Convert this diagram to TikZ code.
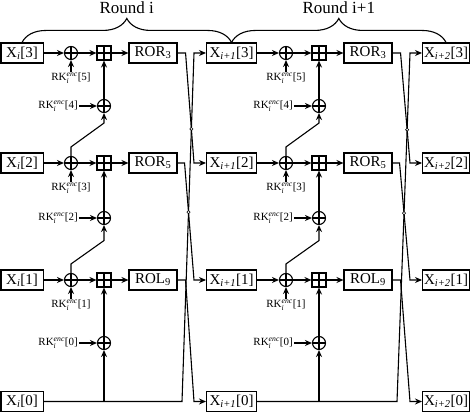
\documentclass[tikz,border=0pt]{standalone}
\usepackage{amsmath}
\usepackage{fontspec}
\setmainfont{Liberation Serif}
\usepackage{tikz}
\usetikzlibrary{positioning,arrows.meta,decorations.pathreplacing,intersections}
\tikzset{
	>={Stealth[length=7pt,width=6pt]}, % filled arrow heads
	wire/.style={->, line width=1.1pt}, % directed connections
	reg/.style={draw, line width=1.1pt, minimum height=20pt, inner sep=1pt, font=\fontsize{15}{17}\selectfont}, % word boxes
	rotbox/.style={reg, minimum width=48pt}, % rotation boxes
	xorop/.style={circle, draw, line width=1.1pt, minimum size=13pt, inner sep=0pt,
		path picture={\draw[line width=1.1pt] (path picture bounding box.north) -- (path picture bounding box.south)
			(path picture bounding box.west) -- (path picture bounding box.east);}}, % xor
	addop/.style={rectangle, draw, line width=1.1pt, minimum size=14pt, inner sep=0pt,
		path picture={\draw[line width=1.1pt] (path picture bounding box.north) -- (path picture bounding box.south)
			(path picture bounding box.west) -- (path picture bounding box.east);}}, % modular addition
	rklabel/.style={inner sep=1pt, font=\fontsize{11}{13}\selectfont}, % round key words
	roundlabel/.style={font=\fontsize{17}{19}\selectfont}, % round captions
}

\begin{document}
\begin{tikzpicture}[x=1pt,y=1pt]
	\useasboundingbox (0,0) rectangle (474,412);
	% state words
	\foreach \c/\nm/\sub/\xx/\w in {0/in/i/0.5/42, 1/mid/i+1/206/50, 2/out/i+2/422/47}
		\foreach \k/\yy in {3/359, 2/249, 1/132, 0/10.5}
			\node[reg, anchor=west, minimum width=\w] (\nm\k) at (\xx,\yy) {X\textsubscript{\textit{\sub}}[\k]};
	
	\foreach \r/\src/\dst/\dx in {0/in/mid/0, 1/mid/out/215} {
		\foreach \k/\yr/\yk/\op/\sb/\ra/\rb in {3/359/306/ROR/3/5/4, 2/249/194/ROR/5/3/2, 1/132/69/ROL/9/1/0} {
			\node[xorop] (xor\r\k) at ({71+\dx},\yr) {};
			\node[addop] (add\r\k) at ({104+\dx},\yr) {};
			\node[xorop] (kx\r\k) at ({104+\dx},\yk) {};
			\node[rotbox] (rot\r\k) at ({153+\dx},\yr) {\op\textsubscript{\sb}};
			\node[rklabel, below=12pt of xor\r\k] (rka\r\k) {RK$_{\textit{i}}^{\textit{enc}}$[\ra]};
			\node[rklabel, left=18pt of kx\r\k] (rkb\r\k) {RK$_{\textit{i}}^{\textit{enc}}$[\rb]};
			\draw[wire] (\src\k) -- (xor\r\k);
			\draw[wire] (xor\r\k) -- (add\r\k);
			\draw[wire] (add\r\k) -- (rot\r\k);
			\draw[wire] (rka\r\k) -- (xor\r\k);
			\draw[wire] (rkb\r\k) -- (kx\r\k);
			\draw[wire] (kx\r\k) -- (add\r\k);
		}
		% second inputs of the key xors
		\draw[wire] (xor\r2.north) -- ++(0,9) -- ([yshift=-10pt]kx\r3.south) -- (kx\r3.south);
		\draw[wire] (xor\r1.north) -- ++(0,9) -- ([yshift=-15.5pt]kx\r2.south) -- (kx\r2.south);
		\draw[wire] (kx\r1 |- \src0) -- (kx\r1);
		% word permutation
		\draw[wire, name path=permA] (rot\r3.east) -- ++(8,0) -- ([xshift=-12pt]\dst2.west) -- (\dst2.west);
		\draw[wire, name path=permB] (rot\r2.east) -- ++(7,0) -- ([xshift=-12pt]\dst1.west) -- (\dst1.west);
		\draw[wire] (rot\r1.east) -- ++(8,0) -- ([xshift=-12pt]\dst0.west) -- (\dst0.west);
		\draw[wire, name path=permZ] (\src0.east) -- ({182+\dx},10.5) -- ([xshift=-12pt]\dst3.west) -- (\dst3.west);
		\path[name intersections={of=permA and permZ, name=hopA}];
		\path[name intersections={of=permB and permZ, name=hopB}];
		\fill[white, draw=black, line width=0.6pt] (hopA-1) circle (1.6pt) (hopB-1) circle (1.6pt);
	}
	
	% rounds
	\draw[line width=1.1pt, decorate, decoration={brace, amplitude=24pt}] (in3.north) -- (mid3.north)
		node[midway, above=25pt, roundlabel] (round0) {Round i};
	\draw[line width=1.1pt, decorate, decoration={brace, amplitude=24pt}] (mid3.north) -- (out3.north)
		node[midway, above=25pt, roundlabel] (round1) {Round i+1};
\end{tikzpicture}
\end{document}
